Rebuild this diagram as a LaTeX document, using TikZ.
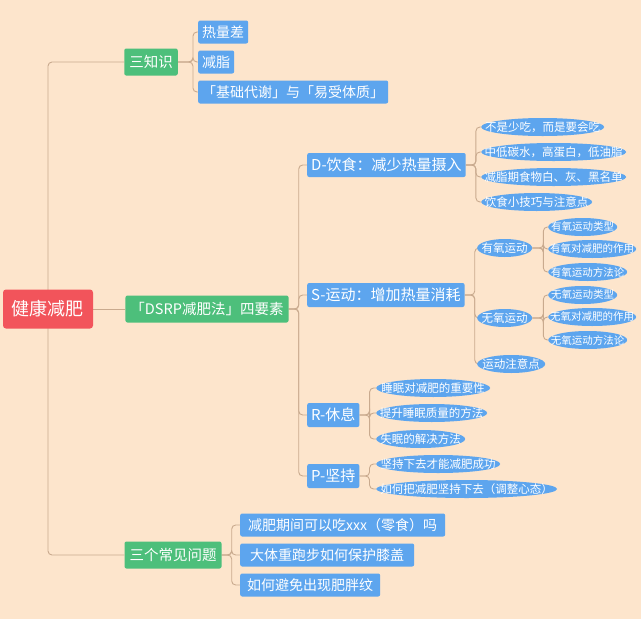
\documentclass[tikz,border=0pt]{standalone}
\usepackage{fontspec}
\setmainfont{Noto Sans CJK SC}
\usetikzlibrary{shapes.geometric}
\definecolor{bgc}{HTML}{FDE5CC}
\definecolor{rootc}{HTML}{F2545B}
\definecolor{grn}{HTML}{4DBF7B}
\definecolor{blu}{HTML}{5DA5EE}
\definecolor{lnc}{HTML}{C9AA8E}
\pgfdeclarelayer{bg}
\pgfsetlayers{bg,main}
\newcommand{\zw}[1]{\makebox[0pt]{#1}}
\tikzset{
  conn/.style={draw=lnc, line width=0.9pt, rounded corners=4pt},
  rootbox/.style={fill=rootc, text=white, rounded corners=3pt, minimum width=90pt, minimum height=39pt, font=\fontsize{18}{20}\selectfont},
  gbox/.style={fill=grn, text=white, rounded corners=2pt, minimum height=27pt, inner xsep=5pt, font=\fontsize{14.5}{16}\selectfont},
  bbox/.style={fill=blu, text=white, rounded corners=2pt, minimum height=24pt, inner xsep=4pt, anchor=west, font=\fontsize{15}{16}\selectfont},
  sbox/.style={fill=blu, text=white, rounded corners=2pt, minimum height=23pt, inner xsep=4pt, anchor=west, font=\fontsize{14}{15}\selectfont},
  ell/.style={ellipse, fill=blu, text=white, minimum height=18pt, inner sep=0pt, anchor=west, font=\fontsize{11.5}{12}\selectfont},
}
\begin{document}
\begin{tikzpicture}[x=1pt,y=-1pt]
\useasboundingbox (0,0) rectangle (641,619);
\node[rootbox] (root) at (48,309) {健康减肥};
\node[gbox] (g1) at (151,62) {三知识};
\node[gbox] (g2) at (207,309) {「DSRP减肥法」四要素};
\node[gbox] (g3) at (173,555) {三个常见问题};
\node[sbox] (k1) at (198,32) {热量差};
\node[sbox] (k2) at (198,62) {减脂};
\node[sbox] (k3) at (198,92) {「基础代谢」与「易受体质」};
\node[bbox, minimum width=158pt] (d) at (307,165) {D-饮食：减少热量摄入};
\node[bbox, minimum width=155pt] (s) at (307,295) {S-运动：增加热量消耗};
\node[bbox] (r) at (307,415) {R-休息};
\node[bbox] (p) at (307,476) {P-坚持};
\node[ell, minimum width=123pt] (d1) at (481,127) {\zw{不是少吃，而是要会吃}};
\node[ell, minimum width=145pt] (d2) at (481,152) {\zw{中低碳水，高蛋白，低油脂}};
\node[ell, minimum width=145pt] (d3) at (481,177) {\zw{减脂期食物白、灰、黑名单}};
\node[ell, minimum width=111pt] (d4) at (481,202) {\zw{饮食小技巧与注意点}};
\node[ell, minimum width=55pt] (a) at (477,248) {\zw{有氧运动}};
\node[ell, minimum width=55pt] (b) at (477,318) {\zw{无氧运动}};
\node[ell, minimum width=68pt] (c) at (477,364) {\zw{运动注意点}};
\node[ell, minimum width=69pt, font=\fontsize{10.5}{12}\selectfont] (a1) at (548,227) {\zw{有氧运动类型}};
\node[ell, minimum width=88pt, font=\fontsize{10.5}{12}\selectfont] (a2) at (548,249) {\zw{有氧对减肥的作用}};
\node[ell, minimum width=79pt, font=\fontsize{10.5}{12}\selectfont] (a3) at (548,272) {\zw{有氧运动方法论}};
\node[ell, minimum width=69pt, font=\fontsize{10.5}{12}\selectfont] (b1) at (548,295) {\zw{无氧运动类型}};
\node[ell, minimum width=88pt, font=\fontsize{10.5}{12}\selectfont] (b2) at (548,317) {\zw{无氧对减肥的作用}};
\node[ell, minimum width=79pt, font=\fontsize{10.5}{12}\selectfont] (b3) at (548,340) {\zw{无氧运动方法论}};
\node[ell, minimum width=114pt] (r1) at (376,388) {\zw{睡眠对减肥的重要性}};
\node[ell, minimum width=111pt] (r2) at (376,413) {\zw{提升睡眠质量的方法}};
\node[ell, minimum width=89pt] (r3) at (376,439) {\zw{失眠的解决方法}};
\node[ell, minimum width=124pt] (p1) at (376,464) {\zw{坚持下去才能减肥成功}};
\node[ell, minimum width=181pt] (p2) at (376,489) {\zw{如何把减肥坚持下去（调整心态）}};
\node[sbox, minimum width=205pt] (q1) at (240,525) {减肥期间可以吃xxx（零食）吗};
\node[sbox, minimum width=174pt] (q2) at (240,555) {大体重跑步如何保护膝盖};
\node[sbox, minimum width=140pt] (q3) at (240,585) {如何避免出现肥胖纹};
\begin{pgfonlayer}{bg}
\fill[bgc] (0,0) rectangle (641,619);
\draw[conn] (root.center) |- (g1.west);
\draw[conn] (root.center) -- (g2.west);
\draw[conn] (root.center) |- (g3.west);
\foreach \c in {k1,k2,k3} \draw[conn] (g1.east) -- ++(15,0) |- (\c.west);
\foreach \c in {d,s,r,p} \draw[conn] (g2.east) -- ++(10,0) |- (\c.west);
\foreach \c in {d1,d2,d3,d4} \draw[conn] (d.east) -- ++(10,0) |- (\c.west);
\foreach \c in {a,b,c} \draw[conn] (s.east) -- ++(10,0) |- (\c.west);
\foreach \c in {a1,a2,a3} \draw[conn] (a.east) -- ++(11,0) |- (\c.west);
\foreach \c in {b1,b2,b3} \draw[conn] (b.east) -- ++(11,0) |- (\c.west);
\foreach \c in {r1,r2,r3} \draw[conn] (r.east) -- ++(10,0) |- (\c.west);
\foreach \c in {p1,p2} \draw[conn] (p.east) -- ++(10,0) |- (\c.west);
\foreach \c in {q1,q2,q3} \draw[conn] (g3.east) -- ++(10,0) |- (\c.west);
\end{pgfonlayer}
\end{tikzpicture}
\end{document}
